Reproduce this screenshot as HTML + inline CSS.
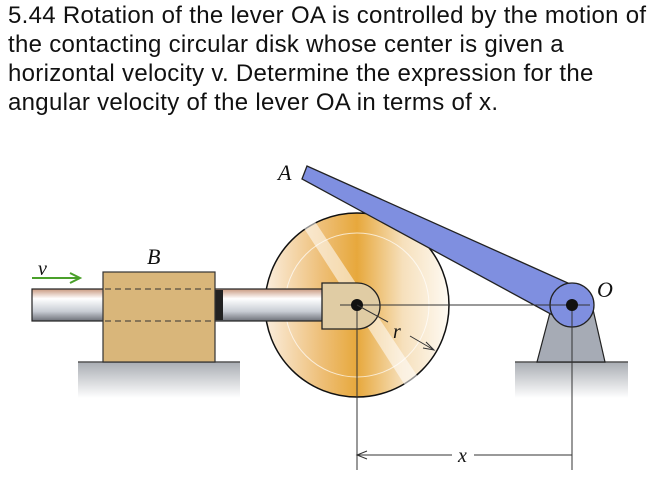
<!DOCTYPE html>
<html><head><meta charset="utf-8"><style>
body{margin:0;background:#fff;width:654px;height:477px;overflow:hidden}
.t{position:absolute;left:8px;top:1px;font-family:"Liberation Sans",sans-serif;font-size:24px;line-height:29px;color:#111;letter-spacing:0.3px;white-space:nowrap}
svg{position:absolute;left:0;top:0}
</style></head><body>
<svg width="654" height="477" viewBox="0 0 654 477">
<defs>
<linearGradient id="gnd" x1="0" y1="0" x2="0" y2="1"><stop offset="0" stop-color="#a9adb3"/><stop offset="1" stop-color="#fff"/></linearGradient>
<linearGradient id="rod" x1="0" y1="0" x2="0" y2="1"><stop offset="0" stop-color="#c99a80"/><stop offset="0.3" stop-color="#fff"/><stop offset="0.7" stop-color="#c8ccd4"/><stop offset="1" stop-color="#6d7078"/></linearGradient>
<linearGradient id="disk" x1="0" y1="0" x2="1" y2="0"><stop offset="0" stop-color="#fbeede"/><stop offset="0.3" stop-color="#eec07a"/><stop offset="0.5" stop-color="#e7a83c"/><stop offset="0.75" stop-color="#f6e0bc"/><stop offset="1" stop-color="#fefaf3"/></linearGradient>
</defs>
<rect x="78" y="362" width="162" height="36" fill="url(#gnd)"/>
<rect x="515" y="362" width="113" height="36" fill="url(#gnd)"/>
<line x1="78" y1="362" x2="240" y2="362" stroke="#555" stroke-width="1.5"/>
<line x1="515" y1="362" x2="628" y2="362" stroke="#555" stroke-width="1.5"/>
<ellipse cx="357" cy="305" rx="92" ry="92" fill="url(#disk)" stroke="#111" stroke-width="1.5"/>
<polygon points="300,222 310,214 420,380 408,390" fill="#fff" opacity="0.55"/>
<circle cx="357" cy="305" r="72" fill="none" stroke="#fff" stroke-width="1" opacity="0.7"/>
<rect x="32" y="289" width="300" height="32" fill="url(#rod)" stroke="#222" stroke-width="1.2"/>
<rect x="215" y="290" width="8" height="30" fill="#222"/>
<rect x="103" y="272" width="112" height="90" fill="#d9b67a" stroke="#333" stroke-width="1.2"/>
<line x1="105" y1="289" x2="213" y2="289" stroke="#333" stroke-dasharray="6,4"/>
<line x1="105" y1="321" x2="213" y2="321" stroke="#333" stroke-dasharray="6,4"/>
<path d="M322 283 H357 A23 23 0 0 1 357 329 H322 Z" fill="#e0cca4" stroke="#222" stroke-width="1.3"/>
<polygon points="537,362 605,362 592,305 552,305" fill="#a6abb5" stroke="#222" stroke-width="1.2"/>
<polygon points="307,166 302,179 558,318 588,292" fill="#7f8fe0" stroke="#222" stroke-width="1.3"/>
<circle cx="572" cy="305" r="22" fill="#7f8fe0" stroke="#222" stroke-width="1.3"/>
<line x1="340" y1="305" x2="590" y2="305" stroke="#333" stroke-width="1"/>
<line x1="357" y1="305" x2="357" y2="470" stroke="#333" stroke-width="1"/>
<line x1="572" y1="305" x2="572" y2="470" stroke="#333" stroke-width="1"/>
<circle cx="357" cy="305" r="6" fill="#111"/>
<circle cx="572" cy="305" r="6" fill="#111"/>
<line x1="357" y1="305" x2="388" y2="322" stroke="#333"/>
<line x1="410" y1="336" x2="434" y2="350" stroke="#333"/>
<path d="M426 342 L434 350 L423 348" fill="none" stroke="#333"/>
<line x1="357" y1="455" x2="452" y2="455" stroke="#333"/>
<line x1="474" y1="455" x2="572" y2="455" stroke="#333"/>
<path d="M367 451 L357 455 L367 459" fill="none" stroke="#333"/>
<line x1="32" y1="278" x2="78" y2="278" stroke="#4aa02a" stroke-width="2"/>
<path d="M70 273 L80 278 L70 283" fill="none" stroke="#4aa02a" stroke-width="2"/>
<g font-family="Liberation Serif,serif" font-style="italic" font-size="22" fill="#111">
<text x="278" y="180">A</text>
<text x="147" y="264">B</text>
<text x="38" y="275" font-size="20">v</text>
<text x="597" y="297">O</text>
<text x="393" y="338" font-size="20">r</text>
<text x="458" y="462" font-size="20">x</text>
</g>
</svg>
<div class="t">5.44 Rotation of the lever OA is controlled by the motion of<br>the contacting circular disk whose center is given a<br>horizontal velocity v. Determine the expression for the<br>angular velocity of the lever OA in terms of x.</div>
</body></html>
